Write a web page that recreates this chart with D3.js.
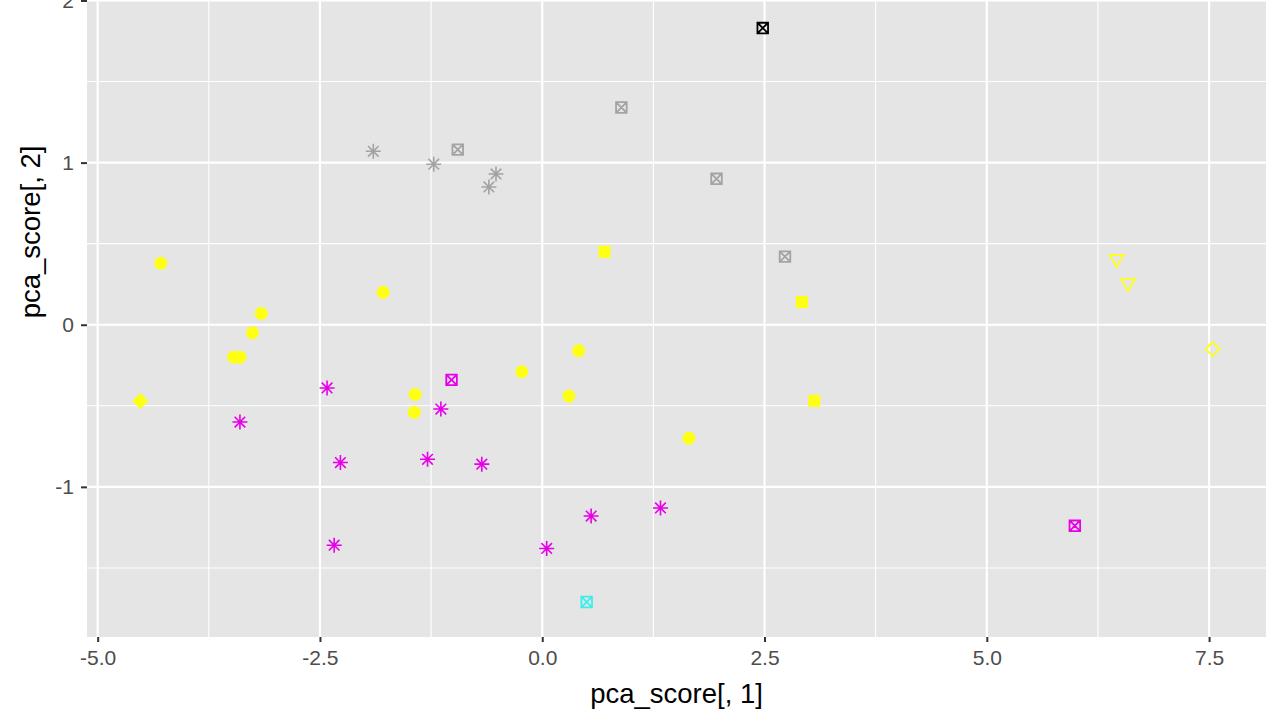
<!DOCTYPE html>
<html>
<head>
<meta charset="utf-8">
<script src="https://cdn.jsdelivr.net/npm/d3@7"></script>
<style>
  body { margin: 0; background: #ffffff; }
  svg { display: block; font-family: "Liberation Sans", Arial, sans-serif; }
</style>
</head>
<body>
<svg id="plotSVG" width="1280" height="720"></svg>
<script>
//////////////////// DATA ////////////////////
// pca scores
const pc1 = [-4.29, -4.52, -3.16, -3.26, -3.47, -3.40, -1.79, -1.43, -1.44, -0.23, 0.41, 0.30, 1.65,
             0.70, 2.92, 3.06,
             6.46, 6.59,
             7.54,
             -2.42, -3.40, -2.27, -1.14, -1.29, -0.68, -2.34, 0.05, 0.55, 1.33,
             -1.02, 5.99,
             0.50,
             -1.90, -1.22, -0.52, -0.60,
             -0.95, 0.89, 1.96, 2.73,
             2.48];
const pc2 = [0.38, -0.47, 0.07, -0.05, -0.20, -0.20, 0.20, -0.43, -0.54, -0.29, -0.16, -0.44, -0.70,
             0.45, 0.14, -0.47,
             0.40, 0.25,
             -0.15,
             -0.39, -0.60, -0.85, -0.52, -0.83, -0.86, -1.36, -1.38, -1.18, -1.13,
             -0.34, -1.24,
             -1.71,
             1.07, 0.99, 0.93, 0.85,
             1.08, 1.34, 0.90, 0.42,
             1.83];
// colour group of every point
const pointColour = ["yellow", "yellow", "yellow", "yellow", "yellow", "yellow", "yellow", "yellow", "yellow", "yellow", "yellow", "yellow", "yellow",
                     "yellow", "yellow", "yellow",
                     "yellow", "yellow",
                     "yellow",
                     "magenta", "magenta", "magenta", "magenta", "magenta", "magenta", "magenta", "magenta", "magenta", "magenta",
                     "magenta", "magenta",
                     "cyan",
                     "grey", "grey", "grey", "grey",
                     "grey", "grey", "grey", "grey",
                     "black"];
// shape group of every point
const pointShape = ["circle", "diamondFilled", "circle", "circle", "circle", "circle", "circle", "circle", "circle", "circle", "circle", "circle", "circle",
                    "square", "square", "square",
                    "triangleDown", "triangleDown",
                    "diamond",
                    "asterisk", "asterisk", "asterisk", "asterisk", "asterisk", "asterisk", "asterisk", "asterisk", "asterisk", "asterisk",
                    "squareCross", "squareCross",
                    "squareCross",
                    "asterisk", "asterisk", "asterisk", "asterisk",
                    "squareCross", "squareCross", "squareCross", "squareCross",
                    "squareCross"];

const xTicks = [-5, -2.5, 0, 2.5, 5, 7.5];
const yTicks = [-1, 0, 1, 2];
const xTitle = "pca_score[, 1]";
const yTitle = "pca_score[, 2]";


//////////////////// HANDLE SIZES ////////////////////
// the picture is cut at the top, so the panel starts above the svg
const panel = { left: 87, right: 1266, top: -173, bottom: 637 };

const plotSVG = d3.select("#plotSVG");


//////////////////// SCALES ////////////////////
const scaleX = d3.scaleLinear().domain([-5.12, 8.14]).range([panel.left, panel.right]);
const scaleY = d3.scaleLinear().domain([-1.926, 3.07]).range([panel.bottom, panel.top]);

const scaleColour = d3.scaleOrdinal()
    .domain(["yellow", "magenta", "cyan", "grey", "black"])
    .range(["#ffff14", "#e800e8", "#3deded", "#a3a3a3", "#000000"]);

// open shapes are stroked, the rest filled
const filledShapes = new Set(["circle", "square", "diamondFilled"]);

function shapePath(shape) {
    switch (shape) {
        case "circle": {
            const r = 6.5;
            return `M${-r},0a${r},${r} 0 1,0 ${2 * r},0a${r},${r} 0 1,0 ${-2 * r},0Z`;
        }
        case "square":
            return "M-6,-6H6V6H-6Z";
        case "diamondFilled":
            return "M0,-8L8,0L0,8L-8,0Z";
        case "diamond":
            return "M0,-7L7,0L0,7L-7,0Z";
        case "triangleDown":
            return "M-7,-5L7,-5L0,7Z";
        case "squareCross": {
            const h = 5.3;
            return `M${-h},${-h}H${h}V${h}H${-h}Z M${-h},${-h}L${h},${h} M${h},${-h}L${-h},${h}`;
        }
        case "asterisk": {
            const r = 7.5, d = r * Math.SQRT1_2;
            return `M${-r},0H${r} M0,${-r}V${r} M${-d},${-d}L${d},${d} M${d},${-d}L${-d},${d}`;
        }
    }
}


//////////////////// PANEL + GRID ////////////////////
plotSVG.append("rect")
    .attr("x", panel.left)
    .attr("y", panel.top)
    .attr("width", panel.right - panel.left)
    .attr("height", panel.bottom - panel.top)
    .attr("fill", "#e5e5e5");

// minor lines halfway between the major ticks
const xMinor = d3.pairs(xTicks).map(p => (p[0] + p[1]) / 2);
const yMinor = d3.pairs(yTicks).map(p => (p[0] + p[1]) / 2).concat([-1.5, 2.5]);

const grid = plotSVG.append("g");

grid.selectAll(".xMinor").data(xMinor).enter().append("line")
    .attr("x1", d => scaleX(d)).attr("x2", d => scaleX(d))
    .attr("y1", panel.top).attr("y2", panel.bottom)
    .attr("stroke", "#ffffff").attr("stroke-width", 1.1);
grid.selectAll(".yMinor").data(yMinor).enter().append("line")
    .attr("y1", d => scaleY(d)).attr("y2", d => scaleY(d))
    .attr("x1", panel.left).attr("x2", panel.right)
    .attr("stroke", "#ffffff").attr("stroke-width", 1.1);
grid.selectAll(".xMajor").data(xTicks).enter().append("line")
    .attr("x1", d => scaleX(d)).attr("x2", d => scaleX(d))
    .attr("y1", panel.top).attr("y2", panel.bottom)
    .attr("stroke", "#ffffff").attr("stroke-width", 2.2);
grid.selectAll(".yMajor").data(yTicks).enter().append("line")
    .attr("y1", d => scaleY(d)).attr("y2", d => scaleY(d))
    .attr("x1", panel.left).attr("x2", panel.right)
    .attr("stroke", "#ffffff").attr("stroke-width", 2.2);


//////////////////// AXES ////////////////////
// plain hyphen for negatives, as R prints them
const xAxis = plotSVG.append("g")
    .attr("transform", `translate(0,${panel.bottom})`)
    .call(d3.axisBottom(scaleX).tickValues(xTicks).tickFormat(d => d.toFixed(1)).tickSize(5).tickPadding(8));

const yAxis = plotSVG.append("g")
    .attr("transform", `translate(${panel.left},0)`)
    .call(d3.axisLeft(scaleY).tickValues(yTicks).tickFormat(d => String(d)).tickSize(6).tickPadding(7));

[xAxis, yAxis].forEach(ax => {
    ax.select(".domain").remove();
    ax.selectAll(".tick line").attr("stroke", "#333333").attr("stroke-width", 2);
    ax.selectAll(".tick text")
        .attr("fill", "#4d4d4d")
        .style("font-size", "21px")
        .style("font-family", "'Liberation Sans', Arial, sans-serif");
});


//////////////////// POINTS ////////////////////
const pointData = pc1.map((d, i) => ({ x: d, y: pc2[i], colour: pointColour[i], shape: pointShape[i] }));

plotSVG.append("g")
    .selectAll(".point")
    .data(pointData)
    .enter()
    .append("path")
    .attr("class", "point")
    .attr("transform", d => `translate(${scaleX(d.x)},${scaleY(d.y)})`)
    .attr("d", d => shapePath(d.shape))
    .attr("fill", d => filledShapes.has(d.shape) ? scaleColour(d.colour) : "none")
    .attr("stroke", d => filledShapes.has(d.shape) ? "none" : scaleColour(d.colour))
    .attr("stroke-width", d => d.shape == "asterisk" ? 1.6 : 1.8);


//////////////////// TITLES ////////////////////
plotSVG.append("text")
    .attr("x", (panel.left + panel.right) / 2)
    .attr("y", 703)
    .attr("text-anchor", "middle")
    .attr("fill", "#000000")
    .style("font-size", "27.5px")
    .text(xTitle);

plotSVG.append("text")
    .attr("transform", `translate(40,${(panel.top + panel.bottom) / 2}) rotate(-90)`)
    .attr("text-anchor", "middle")
    .attr("fill", "#000000")
    .style("font-size", "27.5px")
    .text(yTitle);
</script>
</body>
</html>
